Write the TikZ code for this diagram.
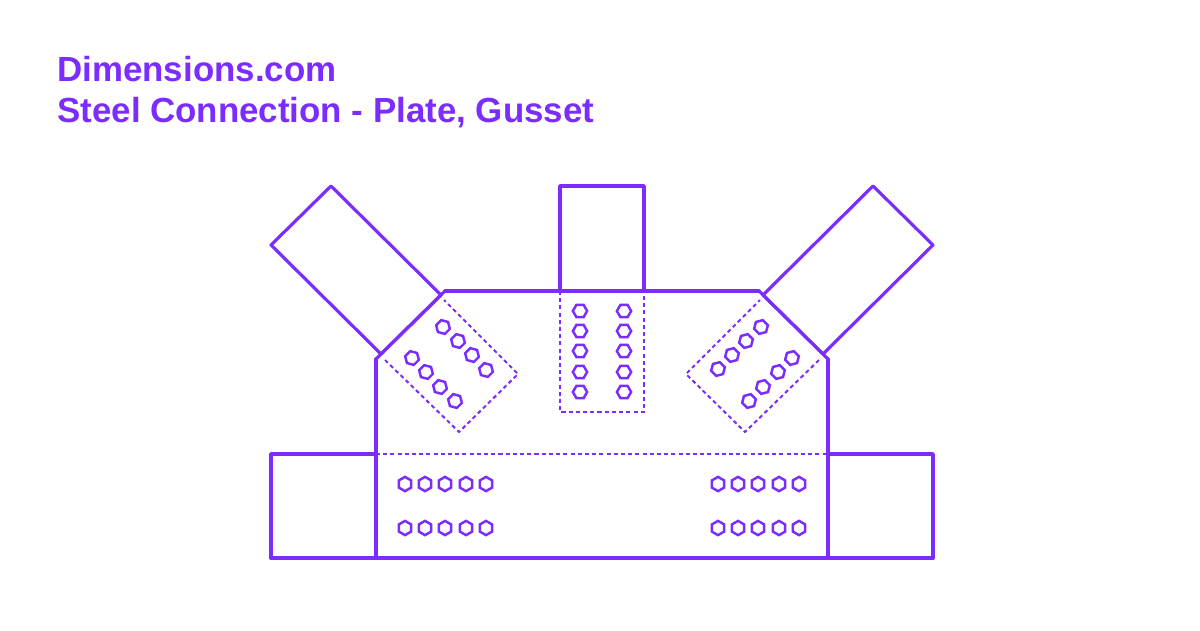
\documentclass[tikz,border=0pt]{standalone}
\usepackage{fontspec}
\setmainfont{Liberation Sans}
\usetikzlibrary{shapes.geometric}
\definecolor{plateviolet}{HTML}{7B2CFF}
\tikzset{
  outline/.style={draw=plateviolet, line width=2pt, line join=round, line cap=round},
  thinline/.style={draw=plateviolet, line width=1.8pt, line join=round, line cap=round},
  hidden/.style={draw=plateviolet, line width=1.15pt, dash pattern=on 2.3pt off 1.8pt},
  bolt/.style={regular polygon, regular polygon sides=6, draw=plateviolet, line width=1.4pt, inner sep=0pt, minimum size=0.285cm},
  title/.style={text=plateviolet, anchor=base west, inner sep=0pt, font=\fontsize{19.85}{23}\selectfont\bfseries}
}

\begin{document}
\begin{tikzpicture}[x=0.02cm, y=-0.02cm]
\useasboundingbox (0,0) rectangle (1200,630);

% Titolo
\node[title] (name) at (57,81) {Dimensions.com};
\node[title] (sub) at (57,122) {Steel Connection - Plate, Gusset};

% Piastra
\draw[outline] (376,454) -- (376,359);
\draw[thinline] (376,359) -- (445,291);
\draw[outline] (445,291) -- (759,291);
\draw[thinline] (759,291) -- (828,359);
\draw[outline] (828,359) -- (828,454);
\draw[thinline] (376,454) -- (376,558);
\draw[thinline] (828,454) -- (828,558);
\draw[outline] (271,558) -- (933,558);
\draw[hidden] (376,454) -- (828,454);

% Profili
\draw[outline] (376,454) -- (271,454) -- (271,558);
\draw[outline] (828,454) -- (933,454) -- (933,558);
\draw[outline] (560,291) -- (560,186) -- (644,186) -- (644,291);
\draw[thinline] (441,295) -- (331,186) -- (271,245) -- (381,354) -- cycle;
\draw[thinline] (763,295) -- (873,186) -- (933,245) -- (823,354) -- cycle;

% Parti nascoste
\draw[hidden] (560,291) -- (560,412) -- (644,412) -- (644,291);
\draw[hidden] (385,360) -- (459,432) -- (518,374) -- (444,300);
\draw[hidden] (819,360) -- (745,432) -- (686,374) -- (760,300);

% Bulloni diagonale sinistra
\node[bolt, rotate=45] (la1) at (443,327) {};
\node[bolt, rotate=45] (la2) at (458,341) {};
\node[bolt, rotate=45] (la3) at (472,355) {};
\node[bolt, rotate=45] (la4) at (486,370) {};
\node[bolt, rotate=45] (lb1) at (412,358) {};
\node[bolt, rotate=45] (lb2) at (426,372) {};
\node[bolt, rotate=45] (lb3) at (440,387) {};
\node[bolt, rotate=45] (lb4) at (455,401) {};

% Bulloni diagonale destra
\node[bolt, rotate=-45] (ra1) at (761,327) {};
\node[bolt, rotate=-45] (ra2) at (746,341) {};
\node[bolt, rotate=-45] (ra3) at (732,355) {};
\node[bolt, rotate=-45] (ra4) at (718,369) {};
\node[bolt, rotate=-45] (rb1) at (792,358) {};
\node[bolt, rotate=-45] (rb2) at (778,372) {};
\node[bolt, rotate=-45] (rb3) at (763,387) {};
\node[bolt, rotate=-45] (rb4) at (749,401) {};

% Bulloni centrali
\node[bolt] (ca1) at (580,311) {};
\node[bolt] (ca2) at (580,331) {};
\node[bolt] (ca3) at (580,351) {};
\node[bolt] (ca4) at (580,372) {};
\node[bolt] (ca5) at (580,392) {};
\node[bolt] (cb1) at (624,311) {};
\node[bolt] (cb2) at (624,331) {};
\node[bolt] (cb3) at (624,351) {};
\node[bolt] (cb4) at (624,372) {};
\node[bolt] (cb5) at (624,392) {};

% Bulloni in basso a sinistra
\node[bolt, rotate=90] (sa1) at (405,484) {};
\node[bolt, rotate=90] (sa2) at (425,484) {};
\node[bolt, rotate=90] (sa3) at (445,484) {};
\node[bolt, rotate=90] (sa4) at (466,484) {};
\node[bolt, rotate=90] (sa5) at (486,484) {};
\node[bolt, rotate=90] (sb1) at (405,528) {};
\node[bolt, rotate=90] (sb2) at (425,528) {};
\node[bolt, rotate=90] (sb3) at (445,528) {};
\node[bolt, rotate=90] (sb4) at (466,528) {};
\node[bolt, rotate=90] (sb5) at (486,528) {};

% Bulloni in basso a destra
\node[bolt, rotate=90] (da1) at (718,484) {};
\node[bolt, rotate=90] (da2) at (738,484) {};
\node[bolt, rotate=90] (da3) at (758,484) {};
\node[bolt, rotate=90] (da4) at (779,484) {};
\node[bolt, rotate=90] (da5) at (799,484) {};
\node[bolt, rotate=90] (db1) at (718,528) {};
\node[bolt, rotate=90] (db2) at (738,528) {};
\node[bolt, rotate=90] (db3) at (758,528) {};
\node[bolt, rotate=90] (db4) at (779,528) {};
\node[bolt, rotate=90] (db5) at (799,528) {};
\end{tikzpicture}
\end{document}
